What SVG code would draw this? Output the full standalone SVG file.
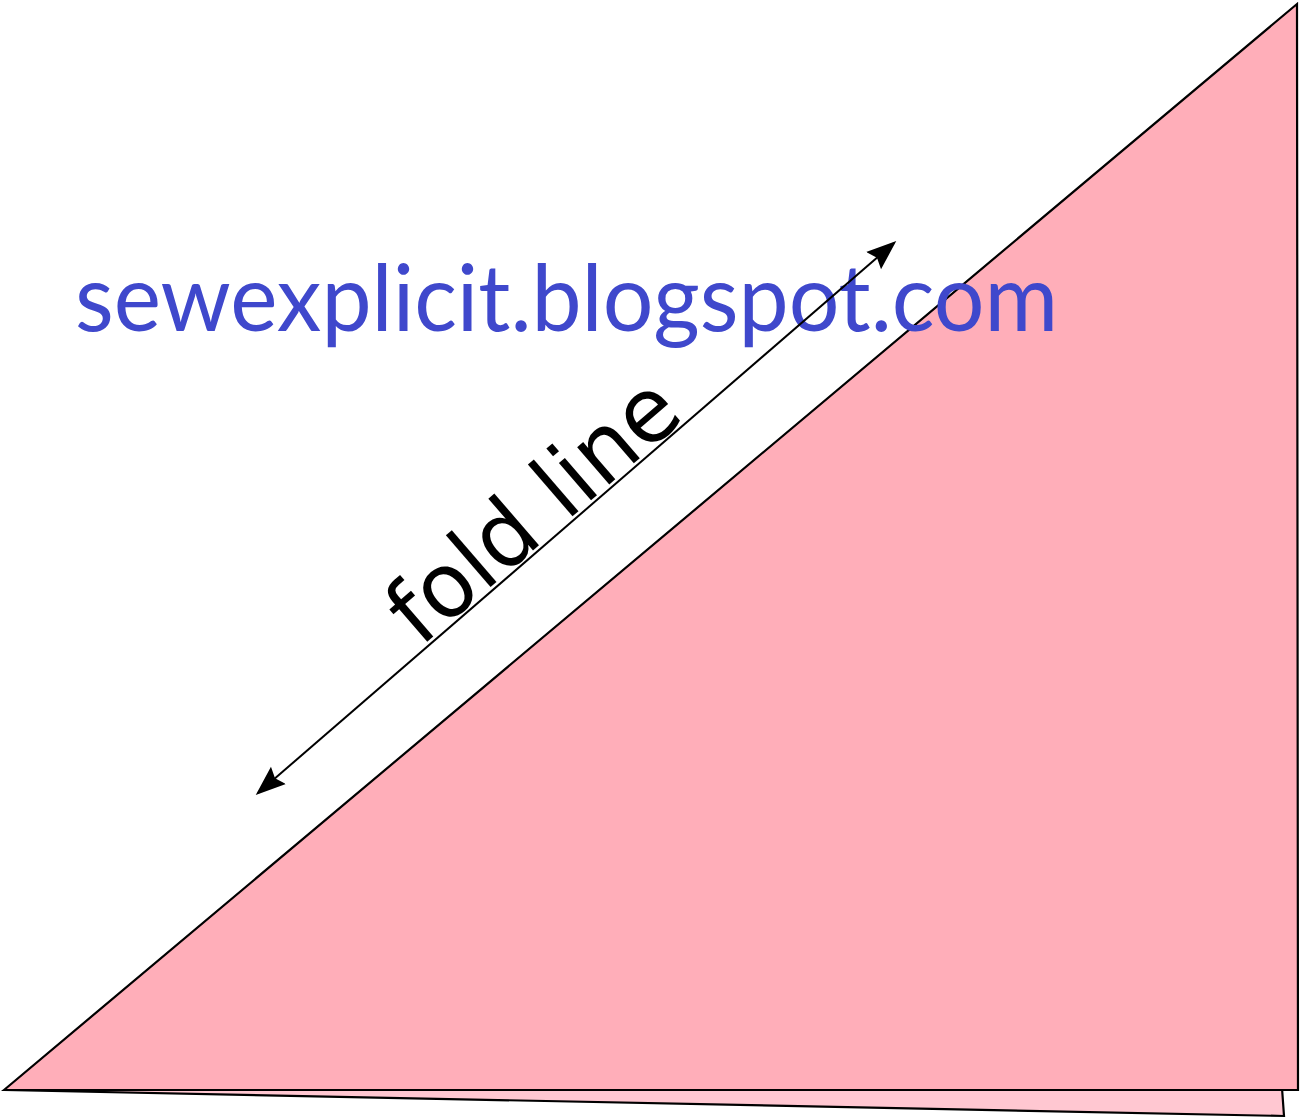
<svg xmlns="http://www.w3.org/2000/svg" width="1300" height="1119" viewBox="0 0 1300 1119">
<defs>
<marker id="ah" viewBox="0 0 10 10" refX="9" refY="5" markerWidth="30" markerHeight="30" markerUnits="userSpaceOnUse" orient="auto-start-reverse">
<path d="M0,1.2 L10,5 L0,8.8 L1.5,5 z" fill="#000"/>
</marker>
<style>
.edge{stroke:#000;stroke-width:2.2;stroke-linejoin:miter}
</style>
</defs>
<rect width="1300" height="1119" fill="#fff"/>
<g id="back-layer">
<polygon class="edge" points="4,1090 1284,1116 1282,1088" fill="#FFC7D1"/>
</g>
<g id="front-layer">
<polygon class="edge" points="4,1090 1297,4 1298,1090" fill="#FFAEB9"/>
</g>
<g id="url">
<text x="75" y="331" font-family="Lato, 'Open Sans', sans-serif" font-size="94" fill="#3F48CC" textLength="983" lengthAdjust="spacingAndGlyphs">sewexplicit.blogspot.com</text>
</g>
<g id="connectors">
<line x1="258" y1="793" x2="894" y2="243" stroke="#000" stroke-width="2" marker-start="url(#ah)" marker-end="url(#ah)"/>
</g>
<g id="fold-label">
<text transform="translate(420,648) rotate(-40.8)" font-family="'DejaVu Sans', sans-serif" font-size="90" fill="#000" textLength="352" lengthAdjust="spacingAndGlyphs">fold line</text>
</g>
</svg>
